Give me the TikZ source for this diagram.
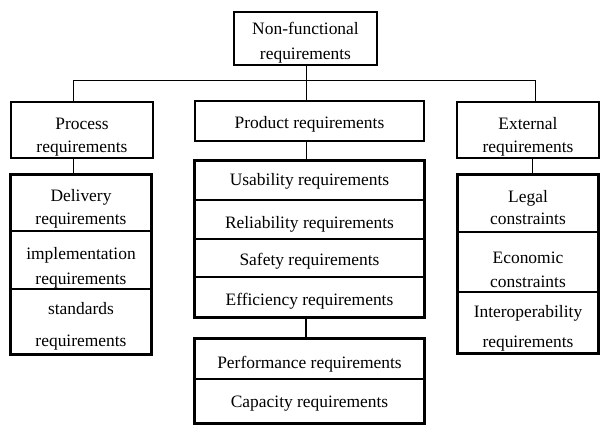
\documentclass[tikz,border=0pt]{standalone}
\usepackage{fontspec}
\setmainfont{Liberation Serif}
\newcommand\dn[2]{\raisebox{-#1}[\height][\depth]{#2}}
\newcommand\twoln[3]{\begin{tabular}{@{}c@{}}#2\\[#1]#3\end{tabular}}
\begin{document}
\begin{tikzpicture}[x=1bp,y=-1bp,
  txt/.style={font=\fontsize{17.5}{23}\selectfont},
  box/.style={draw, line width=2.4bp, rectangle, inner sep=0pt, align=center, txt},
  cell/.style={draw, line width=1.3bp, rectangle, inner sep=0pt, align=center, txt},
  frame/.style={draw, line width=2.4bp},
  link/.style={line width=1bp},
  thicklink/.style={line width=2.8bp}]
\useasboundingbox (0,0) rectangle (612,429);
% top
\node[box, minimum width=143bp, minimum height=53bp] (top) at (305.5,38.5) {\dn{4bp}{\twoln{2bp}{Non-functional}{requirements}}};
% second level
\node[box, minimum width=142bp, minimum height=56bp] (proc) at (82,130) {\dn{6bp}{\twoln{0bp}{Process}{requirements}}};
\node[box, minimum width=229bp, minimum height=40bp] (prod) at (309.5,121) {\dn{3bp}{Product requirements}};
\node[box, minimum width=142bp, minimum height=56bp] (ext) at (528,130) {\dn{6bp}{\twoln{0bp}{External}{requirements}}};
% process stack
\node[cell, minimum width=140bp, minimum height=56bp] (deliv) at (81,203) {\dn{5bp}{\twoln{0bp}{Delivery}{requirements}}};
\node[cell, minimum width=140bp, minimum height=58bp] (impl) at (81,260) {\dn{7bp}{\twoln{2bp}{implementation}{requirements}}};
\node[cell, minimum width=140bp, minimum height=65bp] (std) at (81,321.5) {\dn{4.5bp}{\twoln{9bp}{standards}{requirements}}};
\draw[frame] (deliv.north west) rectangle (std.south east);
% product stack 1
\node[cell, minimum width=229bp, minimum height=39bp] (usab) at (309.5,180.5) {\dn{1bp}{Usability requirements}};
\node[cell, minimum width=229bp, minimum height=39bp] (relia) at (309.5,219.5) {\dn{5bp}{Reliability requirements}};
\node[cell, minimum width=229bp, minimum height=38bp] (safe) at (309.5,258) {\dn{3bp}{Safety requirements}};
\node[cell, minimum width=229bp, minimum height=40bp] (effi) at (309.5,297) {\dn{4bp}{Efficiency requirements}};
\draw[frame] (usab.north west) rectangle (effi.south east);
% product stack 2
\node[cell, minimum width=229bp, minimum height=40bp] (perf) at (309.5,359) {\dn{5bp}{Performance requirements}};
\node[cell, minimum width=229bp, minimum height=44bp] (capa) at (309.5,401) {\dn{3bp}{Capacity requirements}};
\draw[frame] (perf.north west) rectangle (capa.south east);
% external stack
\node[cell, minimum width=140bp, minimum height=57bp] (legal) at (528,203.5) {\dn{5bp}{\twoln{-1bp}{Legal}{constraints}}};
\node[cell, minimum width=140bp, minimum height=60bp] (econ) at (528,262) {\dn{9bp}{\twoln{1bp}{Economic}{constraints}}};
\node[cell, minimum width=140bp, minimum height=61bp] (inter) at (528,322.5) {\dn{5bp}{\twoln{7bp}{Interoperability}{requirements}}};
\draw[frame] (legal.north west) rectangle (inter.south east);
% connectors
\coordinate (jl) at (73,80);
\coordinate (jm) at (306,80);
\coordinate (jr) at (535,80);
\coordinate (jr2) at (532,0);
\draw[link] (jl) -- (jr);
\draw[link] (top.south -| jm) -- (prod.north -| jm);
\draw[link] (jl) -- (proc.north -| jl);
\draw[link] (jr) -- (ext.north -| jr);
\draw[link] (proc.south -| jl) -- (deliv.north -| jl);
\draw[link] (prod.south -| jm) -- (usab.north -| jm);
\draw[link] (ext.south -| jr2) -- (legal.north -| jr2);
\draw[thicklink] (effi.south -| jm) -- (perf.north -| jm);
\end{tikzpicture}
\end{document}
